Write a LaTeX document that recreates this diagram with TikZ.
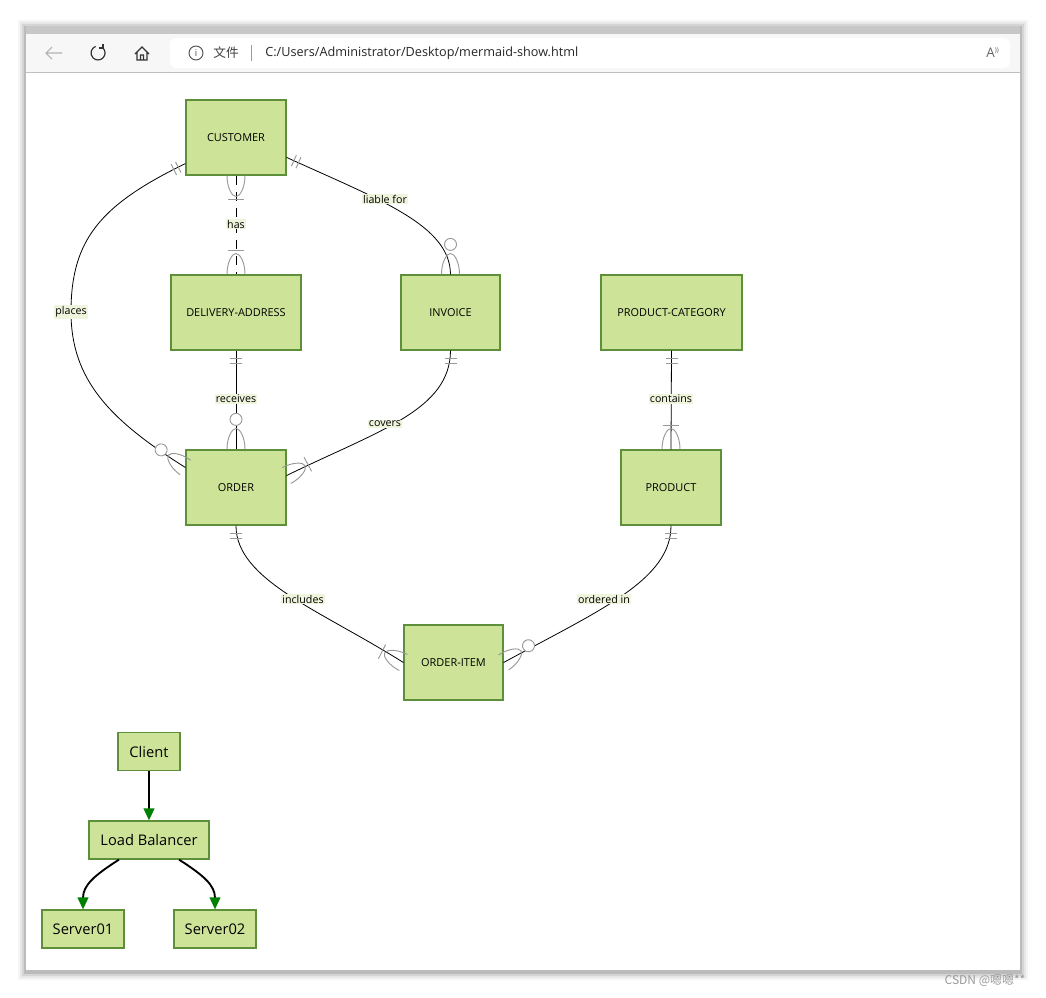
\documentclass[tikz,border=0pt]{standalone}
\usepackage{fontspec}
\setmainfont{Open Sans}
\newfontfamily\cjk{Noto Sans CJK SC}
\usetikzlibrary{arrows.meta}
\definecolor{efill}{HTML}{CDE498}
\definecolor{eline}{HTML}{5E8F3A}
\definecolor{lbl}{HTML}{EEF5DC}
\definecolor{mk}{HTML}{999999}
\begin{document}
\begin{tikzpicture}[x=0.75pt,y=-0.75pt,
  ent/.style={draw=eline,fill=efill,line width=0.9pt,minimum width=#1*0.75pt,minimum height=75*0.75pt,inner sep=0pt,font=\fontsize{8.2}{10}\selectfont},
  fc/.style={draw=eline,fill=efill,line width=0.9pt,minimum height=38*0.75pt,inner sep=0pt,font=\fontsize{11}{13}\selectfont},
  rel/.style={draw=black,line width=0.6pt},
  lab/.style={fill=lbl,inner sep=1pt,font=\fontsize{8}{9}\selectfont},
  mkr/.style={draw=mk,line width=0.7pt},
  farr/.style={draw=black,line width=1.4pt,-{Triangle[length=9pt,width=8pt,fill=green!50!black,color=green!50!black]}}]
\useasboundingbox (0,0) rectangle (1046,997);
% window shadow
\foreach \i/\o in {8/0.04,6/0.06,4/0.08,2/0.12}{
  \fill[black,opacity=\o] (26-\i,26-\i+2) rectangle (1020+\i,970+\i+2);}
\fill[white] (26,26) rectangle (1020,970);
\fill[black!22] (26,26) rectangle (1020,34);
\fill[black!3] (26,34) rectangle (1020,72);
\draw[black!25] (26,72.5) -- (1020,72.5);
\fill[white,rounded corners=4pt] (170,38) rectangle (1010,68);
% toolbar icons
\draw[black!30,line width=0.8pt] (62,53) -- (46,53) (52,47) -- (46,53) -- (52,59);
\draw[black!80,line width=0.9pt] (103,48) arc[start angle=-45,end angle=250,radius=7];
\draw[black!80,line width=0.9pt] (103,44) -- (103,48) -- (99,48);
\draw[black!80,line width=0.9pt] (135,54) -- (142,47) -- (149,54) (137,52) -- (137,60) -- (147,60) -- (147,52) (140.5,60) -- (140.5,55) -- (143.5,55) -- (143.5,60);
\draw[black!70,line width=0.7pt] (196,53) circle[radius=7];
\node[font=\fontsize{7}{7}\selectfont,text=black!70] at (196,53.5) {i};
\node[font=\cjk\fontsize{9.5}{10}\selectfont,text=black!75] at (226,53) {文件};
\draw[black!40] (251,45) -- (251,61);
\node[anchor=west,font=\fontsize{9.5}{11}\selectfont,text=black!85,inner sep=0pt] at (265,53) {C:/Users/Administrator/Desktop/mermaid-show.html};
\node[font=\fontsize{10}{11}\selectfont,text=black!60] at (993,53) {A\textsuperscript{\tiny))}};
% entities
\node[ent=100] (cust) at (236,137.5) {CUSTOMER};
\node[ent=130] (deliv) at (236,312.5) {DELIVERY-ADDRESS};
\node[ent=99] (inv) at (450.5,312.5) {INVOICE};
\node[ent=141] (pcat) at (671.5,312.5) {PRODUCT-CATEGORY};
\node[ent=100] (ord) at (236,487.5) {ORDER};
\node[ent=100] (prod) at (671,487.5) {PRODUCT};
\node[ent=99] (item) at (453.5,662.5) {ORDER-ITEM};
% connection points
\coordinate (cpl) at ([yshift=12*0.75pt]cust.south west);
\coordinate (opl) at ([yshift=20*0.75pt]ord.west);
\coordinate (cpr) at ([yshift=-58*0.75pt]cust.north east);
\coordinate (ocv) at ([yshift=12*0.75pt]ord.east);
% relationships
\draw[rel] (cpl) .. controls (100,205) and (71,240) .. (71,312) .. controls (71,380) and (110,420) .. (opl);
\draw[rel,dash pattern=on 7pt off 5pt] (cust.south) -- (deliv.north);
\draw[rel] (cpr) .. controls (380,200) and (450,225) .. (inv.north);
\draw[rel] (deliv.south) -- (ord.north);
\draw[rel] (inv.south) .. controls (450,410) and (380,430) .. (ocv);
\draw[rel] (pcat.south) -- (prod.north);
\draw[rel] (ord.south) .. controls (236,580) and (320,610) .. (item.west);
\draw[rel] (prod.south) .. controls (671,580) and (600,610) .. (item.east);
% markers
\tikzset{
 onlyone/.pic={\draw[mkr] (8,-6)--(8,6) (13,-6)--(13,6);},
 crow/.pic={\draw[mkr] (0,-9) .. controls (12,-9) and (21,-4) .. (21,0) (0,9) .. controls (12,9) and (21,4) .. (21,0);},
 bar/.pic={\draw[mkr] (24,-8)--(24,8);},
 ring/.pic={\draw[mkr,fill=white] (30,0) circle[radius=6];}}
\pic[rotate=207] at (cpl) {onlyone};
\pic[rotate=144] at (opl) {crow}; \pic[rotate=144] at (opl) {ring};
\pic[rotate=-90] at (cust.south) {crow}; \pic[rotate=-90] at (cust.south) {bar};
\pic[rotate=90] at (deliv.north) {crow}; \pic[rotate=90] at (deliv.north) {bar};
\pic[rotate=-24] at (cpr) {onlyone};
\pic[rotate=90] at (inv.north) {crow}; \pic[rotate=90] at (inv.north) {ring};
\pic[rotate=-90] at (deliv.south) {onlyone};
\pic[rotate=90] at (ord.north) {crow}; \pic[rotate=90] at (ord.north) {ring};
\pic[rotate=-90] at (inv.south) {onlyone};
\pic[rotate=28] at (ocv) {crow}; \pic[rotate=28] at (ocv) {bar};
\pic[rotate=-90] at (pcat.south) {onlyone};
\pic[rotate=90] at (prod.north) {crow}; \pic[rotate=90] at (prod.north) {bar};
\pic[rotate=-90] at (ord.south) {onlyone};
\pic[rotate=153] at (item.west) {crow}; \pic[rotate=153] at (item.west) {bar};
\pic[rotate=-90] at (prod.south) {onlyone};
\pic[rotate=34] at (item.east) {crow}; \pic[rotate=34] at (item.east) {ring};
% labels
\node[lab] (l1) at (71,312) {places};
\node[lab] (l2) at (236,224) {has};
\node[lab] (l3) at (385,199) {liable for};
\node[lab] (l4) at (236,399) {receives};
\node[lab] (l5) at (385,424) {covers};
\node[lab] (l6) at (671,399) {contains};
\node[lab] (l7) at (303,599) {includes};
\node[lab] (l8) at (604,599) {ordered in};
% flowchart
\node[fc,minimum width=62*0.75pt] (client) at (149,751.5) {Client};
\node[fc,minimum width=120*0.75pt] (lb) at (149,840) {Load Balancer};
\node[fc,minimum width=82*0.75pt] (s1) at (83,929) {Server01};
\node[fc,minimum width=82*0.75pt] (s2) at (215,929) {Server02};
\draw[farr] (client) -- (lb);
\draw[farr] ([xshift=-30*0.75pt]lb.south) .. controls (95,875) and (83,885) .. (s1.north);
\draw[farr] ([xshift=30*0.75pt]lb.south) .. controls (203,875) and (215,885) .. (s2.north);
% watermark
\node[font=\cjk\fontsize{9}{10}\selectfont,text=black!40] at (985,981) {CSDN @嗯嗯**};
\end{tikzpicture}
\end{document}
